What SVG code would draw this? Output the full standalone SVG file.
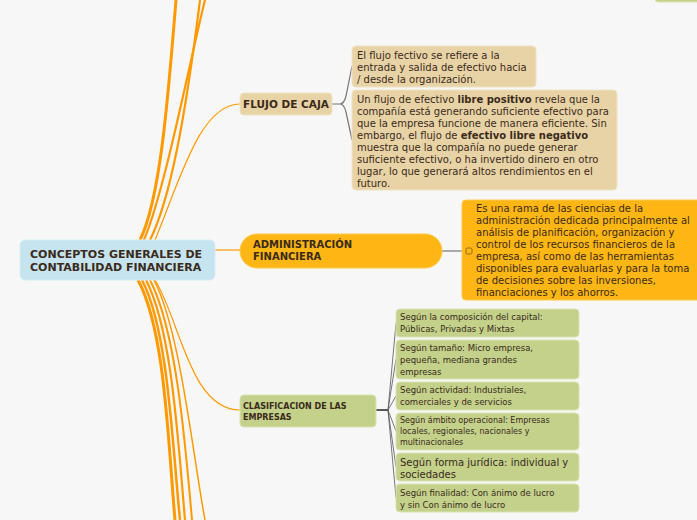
<svg xmlns="http://www.w3.org/2000/svg" width="697" height="520" viewBox="0 0 697 520">
<style>
.t{font-family:"DejaVu Sans",Verdana,sans-serif;fill:#3a2a1a}
.b{font-weight:bold}
.o{fill:none;stroke:#ff9900}
.g{fill:none;stroke:#777;stroke-width:1.2}
.green{fill:#c3d18b;stroke:#d8e2b0}
.tan{fill:#e8d3a6;stroke:#f0e2c4}
.yel{fill:#fdb614;stroke:#fdc84a}
</style>
<rect width="697" height="520" fill="#f7f7f7"/>
<g id="connectors">
<path class="o" stroke-width="3" d="M140 240 C160 200 168 100 176 0"/>
<path class="o" stroke-width="2.2" d="M144 240 C165 190 190 60 205 0"/>
<path class="o" stroke-width="2.2" d="M150 240 C170 200 185 120 200 0"/>
<path class="o" stroke-width="1.2" d="M155 240 C180 180 200 104 240 104"/>
<path class="o" stroke-width="1.2" d="M215 250 L240 250"/>
<path class="o" stroke-width="1.2" d="M155 280 C180 320 190 410 240 410"/>
<path class="o" stroke-width="3" d="M138 280 C165 330 168 440 175 520"/>
<path class="o" stroke-width="2.5" d="M142 280 C168 330 172 440 180 520"/>
<path class="o" stroke-width="2.2" d="M146 280 C172 330 178 440 185 520"/>
<path class="o" stroke-width="2" d="M150 280 C176 330 185 440 192 520"/>
<path class="o" stroke-width="1.5" d="M154 280 C180 330 192 450 205 520"/>
<path class="g" d="M332 104 L340 104 Q344 104 346 96 L352 66 M340 104 Q344 104 346 112 L352 140"/>
<path class="g" d="M442 251 L466 251"/>
<path fill="none" stroke="#222" stroke-width="1.5" d="M376 410 L388 410"/>
<path fill="none" stroke="#555" stroke-width="0.8" d="M388 410 L396 323 M388 410 L396 359 M388 410 L396 396 M388 410 L396 431 M388 410 L396 467 M388 410 L396 498"/>
</g>
<g id="root">
<rect x="20" y="240" width="195" height="40" rx="5" fill="#c6e4f0" stroke="#d8eef6"/>
<text class="t b" font-size="11" x="30" y="258">CONCEPTOS GENERALES DE</text>
<text class="t b" font-size="11" x="30" y="271">CONTABILIDAD FINANCIERA</text>
</g>
<g id="top-partial"><rect class="green" x="655" y="-10" width="60" height="12" rx="3"/></g>
<g id="flujo">
<rect class="tan" x="240" y="93" width="92" height="22" rx="4"/>
<text class="t b" font-size="10.5" x="243" y="108">FLUJO DE CAJA</text>
</g>
<g id="flujo-def">
<rect class="tan" x="352" y="46" width="184" height="41" rx="4"/>
<text class="t" font-size="10" x="357" y="59">El flujo fectivo se refiere a la</text>
<text class="t" font-size="10" x="357" y="71">entrada y salida de efectivo hacia</text>
<text class="t" font-size="10" x="357" y="83">/ desde la organización.</text>
</g>
<g id="flujo-libre">
<rect class="tan" x="352" y="90" width="265" height="100" rx="4"/>
<text class="t" font-size="10" x="357" y="103">Un flujo de efectivo <tspan class="b">libre positivo</tspan> revela que la</text>
<text class="t" font-size="10" x="357" y="115">compañía está generando suficiente efectivo para</text>
<text class="t" font-size="10" x="357" y="127">que la empresa funcione de manera eficiente. Sin</text>
<text class="t" font-size="10" x="357" y="139">embargo, el flujo de <tspan class="b">efectivo libre negativo</tspan></text>
<text class="t" font-size="10" x="357" y="151">muestra que la compañía no puede generar</text>
<text class="t" font-size="10" x="357" y="163">suficiente efectivo, o ha invertido dinero en otro</text>
<text class="t" font-size="10" x="357" y="175">lugar, lo que generará altos rendimientos en el</text>
<text class="t" font-size="10" x="357" y="187">futuro.</text>
</g>
<g id="admin">
<rect class="yel" x="240" y="234" width="202" height="34" rx="17"/>
<text class="t b" font-size="10" x="253" y="248" fill="#222">ADMINISTRACIÓN</text>
<text class="t b" font-size="10" x="253" y="260" fill="#222">FINANCIERA</text>
</g>
<g id="admin-def">
<rect class="yel" x="462" y="200" width="240" height="100" rx="4"/>
<rect x="466" y="248" width="6" height="6" rx="1.5" fill="none" stroke="#7a5a10" stroke-width="0.8"/>
<text class="t" font-size="10" x="476" y="212">Es una rama de las ciencias de la</text>
<text class="t" font-size="10" x="476" y="224">administración dedicada principalmente al</text>
<text class="t" font-size="10" x="476" y="236">análisis de planificación, organización y</text>
<text class="t" font-size="10" x="476" y="248">control de los recursos financieros de la</text>
<text class="t" font-size="10" x="476" y="260">empresa, así como de las herramientas</text>
<text class="t" font-size="10" x="476" y="272">disponibles para evaluarlas y para  la toma</text>
<text class="t" font-size="10" x="476" y="284">de decisiones sobre las inversiones,</text>
<text class="t" font-size="10" x="476" y="296">financiaciones y los ahorros.</text>
</g>
<g id="clasif">
<rect class="green" x="240" y="395" width="136" height="32" rx="4"/>
<text class="t b" font-size="8" x="243" y="409">CLASIFICACION DE LAS</text>
<text class="t b" font-size="8" x="243" y="420">EMPRESAS</text>
</g>
<g id="c1"><rect class="green" x="396" y="309" width="183" height="28" rx="4"/>
<text class="t" font-size="8.5" x="400" y="320">Según la composición del capital:</text>
<text class="t" font-size="8.5" x="400" y="332">Públicas, Privadas y Mixtas</text></g>
<g id="c2"><rect class="green" x="396" y="340" width="183" height="39" rx="4"/>
<text class="t" font-size="8.5" x="400" y="351">Según tamaño: Micro empresa,</text>
<text class="t" font-size="8.5" x="400" y="363">pequeña, mediana grandes</text>
<text class="t" font-size="8.5" x="400" y="375">empresas</text></g>
<g id="c3"><rect class="green" x="396" y="382" width="183" height="28" rx="4"/>
<text class="t" font-size="8.5" x="400" y="393">Según actividad: Industriales,</text>
<text class="t" font-size="8.5" x="400" y="405">comerciales y de servicios</text></g>
<g id="c4"><rect class="green" x="396" y="413" width="183" height="37" rx="4"/>
<text class="t" font-size="8" x="400" y="423">Según ámbito operacional: Empresas</text>
<text class="t" font-size="8" x="400" y="434">locales, regionales, nacionales y</text>
<text class="t" font-size="8" x="400" y="445">multinacionales</text></g>
<g id="c5"><rect class="green" x="396" y="453" width="183" height="28" rx="4"/>
<text class="t" font-size="10" x="400" y="466">Según forma jurídica: individual y</text>
<text class="t" font-size="10" x="400" y="478">sociedades</text></g>
<g id="c6"><rect class="green" x="396" y="484" width="183" height="28" rx="4"/>
<text class="t" font-size="8.5" x="400" y="496" fill="#555">Según finalidad: Con ánimo de lucro</text>
<text class="t" font-size="8.5" x="400" y="508" fill="#555">y sin Con ánimo de lucro</text></g>
</svg>
